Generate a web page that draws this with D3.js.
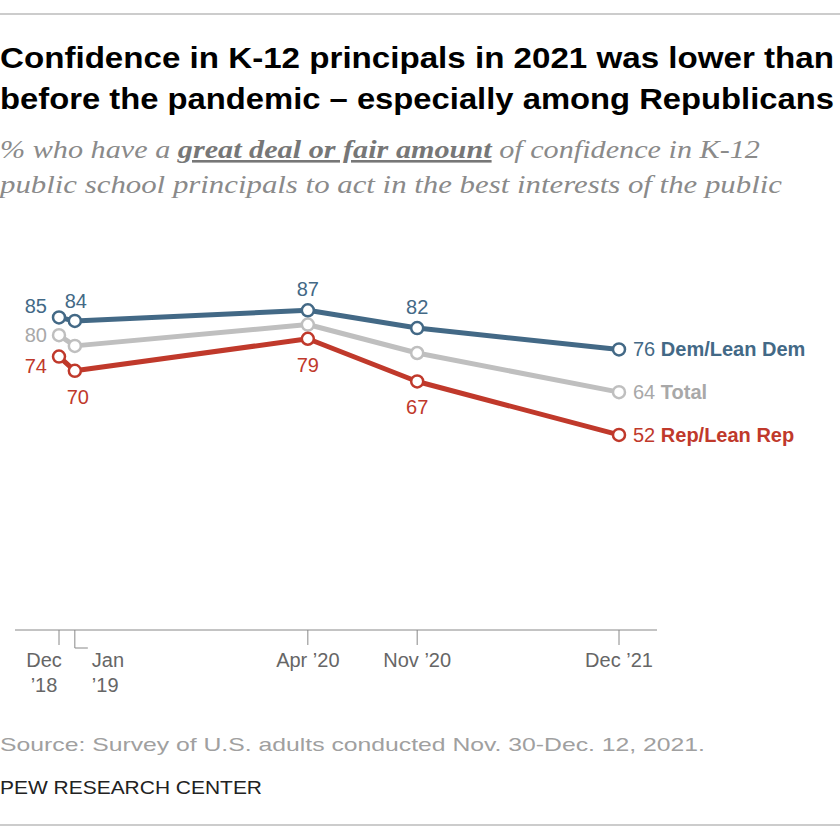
<!DOCTYPE html>
<html><head><meta charset="utf-8">
<script src="https://cdn.jsdelivr.net/npm/d3@7"></script>
<style>body{margin:0;background:#fff;font-family:"Liberation Sans",Arial,sans-serif}</style>
</head><body><div id="chart"></div>
<script>
var dates = ["2018-12-01", "2019-01-01", "2020-04-01", "2020-11-01", "2021-12-01"];
var dem = [85, 84, 87, 82, 76];
var total = [80, 77, 83, 75, 64];
var rep = [74, 70, 79, 67, 52];
var tickLabels = [["Dec", "\u201918"], ["Jan", "\u201919"], ["Apr \u201920"], ["Nov \u201920"], ["Dec \u201921"]];

var W = 840, H = 840;
var svg = d3.select("#chart").append("svg").attr("width", W).attr("height", H);
var parse = d3.timeParse("%Y-%m-%d");
var dts = dates.map(parse);

var x = d3.scaleTime().domain([dts[0], dts[4]]).range([59, 619]);
var y = d3.scaleLinear().domain([0, 100]).range([620, 264]);

svg.append("line").attr("x1", 0).attr("x2", W).attr("y1", 14).attr("y2", 14).attr("stroke", "#999");
svg.append("line").attr("x1", 0).attr("x2", W).attr("y1", 825).attr("y2", 825).attr("stroke", "#999");

svg.append("text").attr("x", 0).attr("y", 68).attr("font-size", 29).attr("font-weight", "bold").attr("fill", "#000")
  .attr("textLength", 834).attr("lengthAdjust", "spacingAndGlyphs")
  .text("Confidence in K-12 principals in 2021 was lower than");
svg.append("text").attr("x", 0).attr("y", 109).attr("font-size", 29).attr("font-weight", "bold").attr("fill", "#000")
  .attr("textLength", 834).attr("lengthAdjust", "spacingAndGlyphs")
  .text("before the pandemic \u2013 especially among Republicans");

var sub = svg.append("text").attr("x", 0).attr("y", 158).attr("font-size", 26)
  .attr("font-family", "'Liberation Serif',Georgia,serif").attr("font-style", "italic").attr("fill", "#8a8a8a")
  .attr("textLength", 760).attr("lengthAdjust", "spacingAndGlyphs");
sub.append("tspan").text("% who have a ");
sub.append("tspan").attr("font-weight", "bold").attr("text-decoration", "underline").attr("fill", "#777").text("great deal or fair amount");
sub.append("tspan").text(" of confidence in K-12");
svg.append("text").attr("x", 0).attr("y", 193).attr("font-size", 26)
  .attr("font-family", "'Liberation Serif',Georgia,serif").attr("font-style", "italic").attr("fill", "#8a8a8a")
  .attr("textLength", 782).attr("lengthAdjust", "spacingAndGlyphs")
  .text("public school principals to act in the best interests of the public");

svg.append("line").attr("x1", 15).attr("x2", 657).attr("y1", 630).attr("y2", 630).attr("stroke", "#888");
dts.forEach(function(d, i) {
  var xx = x(d);
  if (i === 1) {
    svg.append("path").attr("d", "M" + xx + ",630V648H" + (xx + 13)).attr("fill", "none").attr("stroke", "#888");
  } else {
    svg.append("line").attr("x1", xx).attr("x2", xx).attr("y1", 630).attr("y2", 645).attr("stroke", "#888");
  }
});
var tl = svg.append("g").attr("font-size", 20).attr("fill", "#666");
tl.append("text").attr("x", x(dts[0]) - 15).attr("y", 667).attr("text-anchor", "middle").text(tickLabels[0][0]);
tl.append("text").attr("x", x(dts[0]) - 15).attr("y", 692).attr("text-anchor", "middle").text(tickLabels[0][1]);
tl.append("text").attr("x", x(dts[1]) + 17).attr("y", 667).text(tickLabels[1][0]);
tl.append("text").attr("x", x(dts[1]) + 17).attr("y", 692).text(tickLabels[1][1]);
[2, 3, 4].forEach(function(i) {
  tl.append("text").attr("x", x(dts[i])).attr("y", 667).attr("text-anchor", "middle").text(tickLabels[i][0]);
});

var series = [
  {vals: total, color: "#bfbfbf", text: "#a8a8a8", name: "Total"},
  {vals: rep, color: "#c0392b", text: "#c0392b", name: "Rep/Lean Rep"},
  {vals: dem, color: "#436986", text: "#436986", name: "Dem/Lean Dem"}
];
var line = d3.line().x(function(d, i) { return x(dts[i]); }).y(function(d) { return y(d); });

series.forEach(function(s) {
  svg.append("path").datum(s.vals).attr("d", line).attr("fill", "none")
    .attr("stroke", s.color).attr("stroke-width", 5).attr("stroke-linejoin", "round");
  svg.selectAll(null).data(s.vals).enter().append("circle")
    .attr("cx", function(d, i) { return x(dts[i]); }).attr("cy", function(d) { return y(d); })
    .attr("r", 6).attr("fill", "#fff").attr("stroke", s.color).attr("stroke-width", 2.5);
});

function lbl(xx, yy, t, c, anchor) {
  svg.append("text").attr("x", xx).attr("y", yy).attr("font-size", 20).attr("fill", c)
    .attr("text-anchor", anchor || "middle").text(t);
}
lbl(x(dts[0]) - 12, y(dem[0]) - 4, dem[0], "#436986", "end");
lbl(x(dts[1]) + 1, y(dem[1]) - 13, dem[1], "#436986");
lbl(x(dts[2]), y(dem[2]) - 14, dem[2], "#436986");
lbl(x(dts[3]), y(dem[3]) - 14, dem[3], "#436986");
lbl(x(dts[0]) - 12, y(total[0]) + 7, total[0], "#a8a8a8", "end");
lbl(x(dts[0]) - 12, y(rep[0]) + 16, rep[0], "#c0392b", "end");
lbl(x(dts[1]) + 3, y(rep[1]) + 33, rep[1], "#c0392b");
lbl(x(dts[2]), y(rep[2]) + 33, rep[2], "#c0392b");
lbl(x(dts[3]), y(rep[3]) + 33, rep[3], "#c0392b");

series.forEach(function(s) {
  var t = svg.append("text").attr("x", x(dts[4]) + 14).attr("y", y(s.vals[4]) + 7).attr("font-size", 20);
  t.append("tspan").attr("fill", s.text).text(s.vals[4] + " ");
  t.append("tspan").attr("fill", s.text).attr("font-weight", "bold").text(s.name);
});

svg.append("text").attr("x", 0).attr("y", 751).attr("font-size", 19).attr("fill", "#a0a0a0")
  .attr("textLength", 705).attr("lengthAdjust", "spacingAndGlyphs")
  .text("Source: Survey of U.S. adults conducted Nov. 30-Dec. 12, 2021.");
svg.append("text").attr("x", 0).attr("y", 794).attr("font-size", 19).attr("fill", "#222")
  .attr("textLength", 262).attr("lengthAdjust", "spacingAndGlyphs")
  .text("PEW RESEARCH CENTER");
</script></body></html>
